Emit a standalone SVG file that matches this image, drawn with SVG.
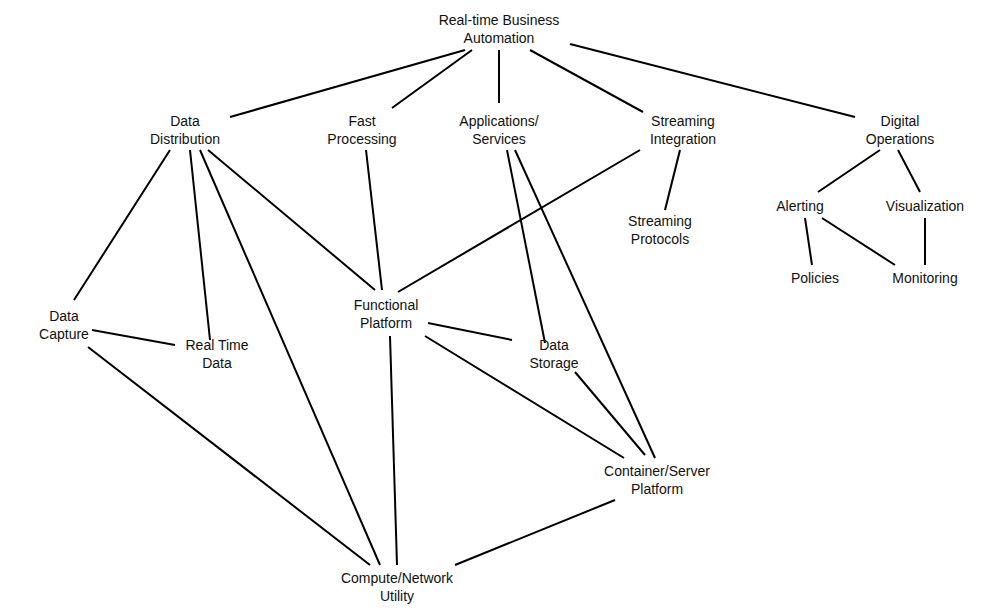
<svg xmlns="http://www.w3.org/2000/svg" width="997" height="616" viewBox="0 0 997 616">
<style>
text{font-family:"Liberation Sans",Arial,sans-serif;font-size:14px;fill:#111;text-anchor:middle}
.e line{stroke:#000;stroke-width:2}
</style>
<rect width="997" height="616" fill="#fff"/>
<g class="e" id="connectors">
<line x1="465" y1="50" x2="230" y2="117"/>
<line x1="472" y1="50" x2="392" y2="108"/>
<line x1="499" y1="50" x2="499" y2="103"/>
<line x1="530" y1="50" x2="643" y2="112"/>
<line x1="570" y1="44" x2="855" y2="117"/>
<line x1="170" y1="150" x2="74" y2="300"/>
<line x1="190" y1="150" x2="210" y2="340"/>
<line x1="200" y1="150" x2="380" y2="565"/>
<line x1="208" y1="150" x2="375" y2="290"/>
<line x1="366" y1="150" x2="382" y2="290"/>
<line x1="507" y1="150" x2="545" y2="343"/>
<line x1="515" y1="150" x2="655" y2="458"/>
<line x1="640" y1="150" x2="398" y2="292"/>
<line x1="680" y1="150" x2="665" y2="210"/>
<line x1="880" y1="150" x2="818" y2="192"/>
<line x1="898" y1="150" x2="920" y2="192"/>
<line x1="805" y1="218" x2="812" y2="265"/>
<line x1="822" y1="218" x2="895" y2="265"/>
<line x1="925" y1="218" x2="925" y2="265"/>
<line x1="92" y1="330" x2="175" y2="345"/>
<line x1="88" y1="347" x2="370" y2="565"/>
<line x1="428" y1="323" x2="512" y2="340"/>
<line x1="425" y1="336" x2="624" y2="458"/>
<line x1="390" y1="336" x2="397" y2="565"/>
<line x1="575" y1="372" x2="645" y2="455"/>
<line x1="615" y1="500" x2="455" y2="565"/>
</g>
<g id="rba"><text x="499" y="25">Real-time Business</text><text x="499" y="43">Automation</text></g>
<g id="dd"><text x="185" y="126">Data</text><text x="185" y="144">Distribution</text></g>
<g id="fp"><text x="362" y="126">Fast</text><text x="362" y="144">Processing</text></g>
<g id="as"><text x="499" y="126">Applications/</text><text x="499" y="144">Services</text></g>
<g id="si"><text x="683" y="126">Streaming</text><text x="683" y="144">Integration</text></g>
<g id="do"><text x="900" y="126">Digital</text><text x="900" y="144">Operations</text></g>
<g id="sp"><text x="660" y="226">Streaming</text><text x="660" y="244">Protocols</text></g>
<g id="al"><text x="800" y="211">Alerting</text></g>
<g id="vi"><text x="925" y="211">Visualization</text></g>
<g id="po"><text x="815" y="283">Policies</text></g>
<g id="mo"><text x="925" y="283">Monitoring</text></g>
<g id="dc"><text x="64" y="321">Data</text><text x="64" y="339">Capture</text></g>
<g id="rtd"><text x="217" y="350">Real Time</text><text x="217" y="368">Data</text></g>
<g id="fpl"><text x="386" y="310">Functional</text><text x="386" y="328">Platform</text></g>
<g id="ds"><text x="554" y="350">Data</text><text x="554" y="368">Storage</text></g>
<g id="csp"><text x="657" y="476">Container/Server</text><text x="657" y="494">Platform</text></g>
<g id="cnu"><text x="397" y="583">Compute/Network</text><text x="397" y="601">Utility</text></g>
</svg>
